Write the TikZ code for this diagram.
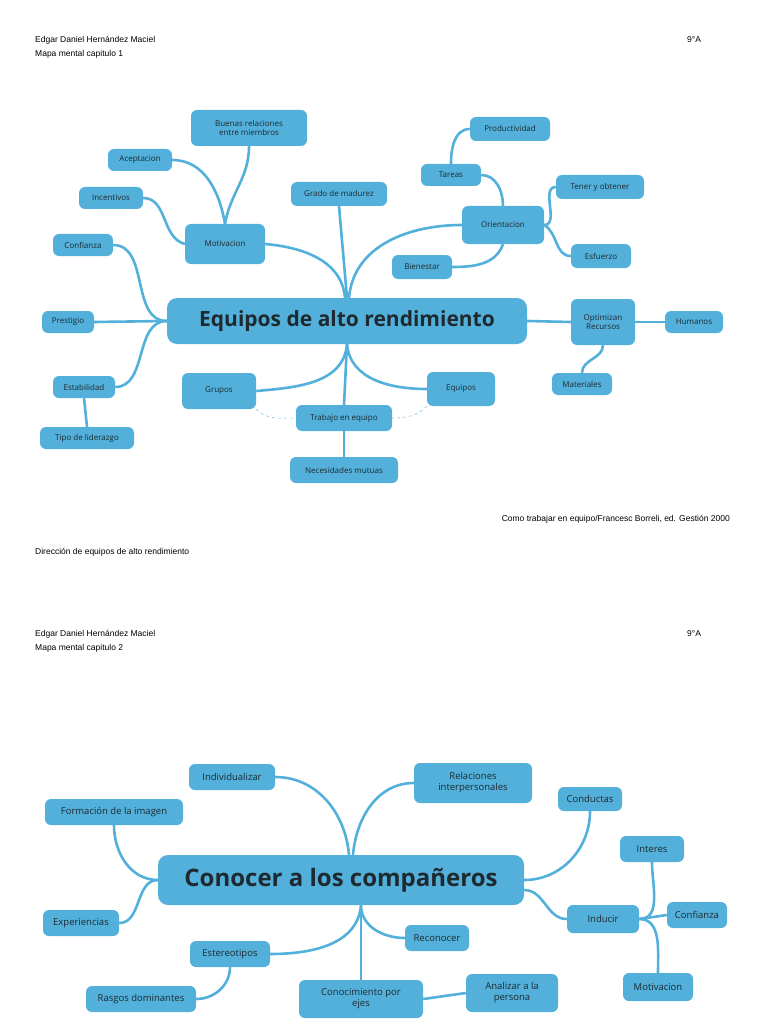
\documentclass[tikz,border=0pt]{standalone}
\usepackage{fontspec}
\setmainfont{Open Sans}
\newfontfamily\hdr{Liberation Sans}
\definecolor{nb}{HTML}{52B0DA}
\definecolor{tx}{HTML}{1E2A30}
\begin{document}
\begin{tikzpicture}[x=1pt,y=1pt,
 bx/.style={fill=nb,rounded corners=6pt,text=tx,align=center,font=\fontsize{8}{9}\selectfont,inner sep=0pt},
 bx2/.style={bx,font=\fontsize{9.5}{11}\selectfont},
 ln/.style={draw=nb,line width=2.6pt},
 dl/.style={draw=nb!70,line width=0.6pt,dashed},
 hd/.style={font=\hdr\fontsize{8.5}{10}\selectfont,inner sep=0pt,anchor=west}]
\useasboundingbox (0,0) rectangle (768,-1024);
% headers
\node[hd] (h1) at (35,-40) {Edgar Daniel Hernández Maciel};
\node[hd] (h2) at (35,-54) {Mapa mental capitulo 1};
\node[hd] (h3) at (687,-40) {9°A};
\node[hd,anchor=east] (h4) at (730,-519) {Como trabajar en equipo/Francesc Borreli, ed. Gestión 2000};
\node[hd] (h5) at (35,-552) {Dirección de equipos de alto rendimiento};
\node[hd] (h6) at (35,-634) {Edgar Daniel Hernández Maciel};
\node[hd] (h7) at (35,-648) {Mapa mental capitulo 2};
\node[hd] (h8) at (687,-634) {9°A};
% map 1 nodes
\node[bx,minimum width=360,minimum height=46,rounded corners=10pt,font=\bfseries\fontsize{21}{24}\selectfont] (main) at (347,-321) {Equipos de alto rendimiento};
\node[bx,minimum width=116,minimum height=36] (buen) at (249,-128) {Buenas relaciones\\entre miembros};
\node[bx,minimum width=64,minimum height=22] (acep) at (140,-160) {Aceptacion};
\node[bx,minimum width=64,minimum height=22] (inc) at (111,-198) {Incentivos};
\node[bx,minimum width=80,minimum height=40] (mot) at (225,-244) {Motivacion};
\node[bx,minimum width=60,minimum height=22] (conf) at (83,-245) {Confianza};
\node[bx,minimum width=52,minimum height=22] (pres) at (68,-322) {Prestigio};
\node[bx,minimum width=62,minimum height=22] (est) at (84,-387) {Estabilidad};
\node[bx,minimum width=94,minimum height=22] (tipo) at (87,-438) {Tipo de liderazgo};
\node[bx,minimum width=96,minimum height=24] (grado) at (339,-194) {Grado de madurez};
\node[bx,minimum width=60,minimum height=22] (tar) at (451,-175) {Tareas};
\node[bx,minimum width=80,minimum height=24] (prod) at (510,-129) {Productividad};
\node[bx,minimum width=82,minimum height=38] (ori) at (503,-225) {Orientacion};
\node[bx,minimum width=88,minimum height=24] (ten) at (600,-187) {Tener y obtener};
\node[bx,minimum width=60,minimum height=24] (esf) at (601,-256) {Esfuerzo};
\node[bx,minimum width=60,minimum height=24] (bien) at (422,-267) {Bienestar};
\node[bx,minimum width=64,minimum height=46] (opt) at (603,-322) {Optimizan\\Recursos};
\node[bx,minimum width=58,minimum height=22] (hum) at (694,-322) {Humanos};
\node[bx,minimum width=60,minimum height=22] (mat) at (582,-384) {Materiales};
\node[bx,minimum width=74,minimum height=36] (gru) at (219,-391) {Grupos};
\node[bx,minimum width=68,minimum height=34] (equ) at (461,-389) {Equipos};
\node[bx,minimum width=96,minimum height=26] (trab) at (344,-418) {Trabajo en equipo};
\node[bx,minimum width=108,minimum height=26] (nec) at (344,-470) {Necesidades mutuas};
% map 1 connectors
\begin{scope}[on background layer/.style={}]
\end{scope}
\draw[ln] (mot.east) to[out=-5,in=95] ([xshift=-2]main.north);
\draw[ln] (grado.south) -- (main.north);
\draw[ln] (ori.west) to[out=180,in=85] ([xshift=2]main.north);
\draw[ln] (buen.south) to[out=-90,in=80] (mot.north);
\draw[ln] (acep.east) to[out=0,in=100] (mot.north);
\draw[ln] (inc.east) to[out=0,in=165] (mot.west);
\draw[ln] (conf.east) to[out=0,in=180] (main.west);
\draw[ln] (pres.east) -- (main.west);
\draw[ln] (est.east) to[out=0,in=180] (main.west);
\draw[ln] (tipo.north) -- (est.south);
\draw[ln] (tar.east) to[out=0,in=90] (ori.north);
\draw[ln] (prod.west) to[out=180,in=90] (tar.north);
\draw[ln] (ten.west) to[out=180,in=0] (ori.east);
\draw[ln] (esf.west) to[out=180,in=-30] (ori.east);
\draw[ln] (bien.east) to[out=0,in=-110] (ori.south);
\draw[ln] (main.east) -- (opt.west);
\draw[ln] (opt.east) -- (hum.west);
\draw[ln] (opt.south) to[out=-90,in=90] (mat.north);
\draw[ln] (main.south) to[out=-95,in=5] (gru.east);
\draw[ln] (main.south) to[out=-85,in=180] (equ.west);
\draw[ln] (main.south) -- (trab.north);
\draw[ln] (trab.south) -- (nec.north);
\draw[dl] (gru.south east) to[out=-45,in=180] (trab.west);
\draw[dl] (equ.south west) to[out=-135,in=0] (trab.east);
% map 2 nodes
\node[bx,minimum width=366,minimum height=50,rounded corners=10pt,font=\bfseries\fontsize{24}{28}\selectfont] (m2) at (341,-880) {Conocer a los compañeros};
\node[bx2,minimum width=86,minimum height=26] (ind) at (232,-777) {Individualizar};
\node[bx2,minimum width=118,minimum height=40] (rel) at (473,-783) {Relaciones\\interpersonales};
\node[bx2,minimum width=138,minimum height=26] (form) at (114,-812) {Formación de la imagen};
\node[bx2,minimum width=64,minimum height=24] (cond) at (590,-799) {Conductas};
\node[bx2,minimum width=64,minimum height=26] (inter) at (652,-849) {Interes};
\node[bx2,minimum width=72,minimum height=28] (indu) at (603,-919) {Inducir};
\node[bx2,minimum width=60,minimum height=26] (conf2) at (697,-915) {Confianza};
\node[bx2,minimum width=76,minimum height=26] (exp) at (81,-923) {Experiencias};
\node[bx2,minimum width=64,minimum height=26] (rec) at (437,-938) {Reconocer};
\node[bx2,minimum width=80,minimum height=26] (este) at (230,-954) {Estereotipos};
\node[bx2,minimum width=70,minimum height=28] (mot2) at (658,-987) {Motivacion};
\node[bx2,minimum width=110,minimum height=26] (ras) at (141,-999) {Rasgos dominantes};
\node[bx2,minimum width=124,minimum height=38] (conoc) at (361,-999) {Conocimiento por\\ejes};
\node[bx2,minimum width=92,minimum height=38] (anal) at (512,-993) {Analizar a la\\persona};
% map 2 connectors
\draw[ln] ([xshift=8]m2.north) to[out=95,in=0] (ind.east);
\draw[ln] ([xshift=12]m2.north) to[out=85,in=180] (rel.west);
\draw[ln] (form.south) to[out=-90,in=180] (m2.west);
\draw[ln] (exp.east) to[out=0,in=180] (m2.west);
\draw[ln] (m2.east) to[out=0,in=-90] (cond.south);
\draw[ln] ([yshift=-10]m2.east) to[out=0,in=180] (indu.west);
\draw[ln] (indu.east) to[out=0,in=-90] (inter.south);
\draw[ln] (indu.east) -- (conf2.west);
\draw[ln] (indu.east) to[out=0,in=90] (mot2.north);
\draw[ln] ([xshift=20]m2.south) to[out=-90,in=180] (rec.west);
\draw[ln] ([xshift=20]m2.south) to[out=-95,in=0] (este.east);
\draw[ln] (este.south) to[out=-90,in=0] (ras.east);
\draw[ln] ([xshift=20]m2.south) -- (conoc.north);
\draw[ln] (conoc.east) -- (anal.west);
\end{tikzpicture}
\end{document}
